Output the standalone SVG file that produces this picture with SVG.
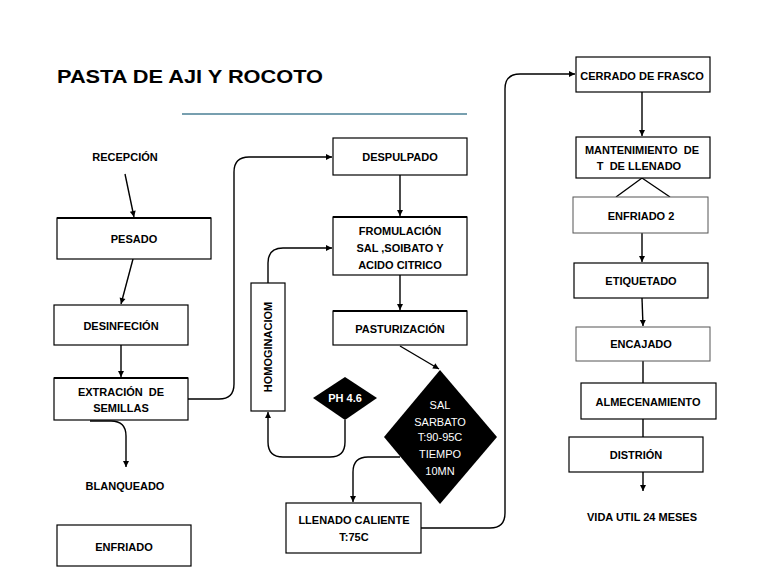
<svg xmlns="http://www.w3.org/2000/svg" width="768" height="576" viewBox="0 0 768 576">
<defs>
<marker id="ah" markerWidth="8" markerHeight="8" refX="7" refY="4" orient="auto" markerUnits="userSpaceOnUse">
<path d="M1,1 L7,4 L1,7 Z" fill="#000"/>
</marker>
<style>
.t{font-family:"Liberation Sans",Arial,sans-serif;font-weight:bold;font-size:11px;fill:#000;text-anchor:middle}
.w{fill:#fff}
.r{font-weight:normal}
.b{fill:#fff;stroke:#000;stroke-width:1.2}
.g{fill:#fff;stroke:#555;stroke-width:1}
.top{stroke:#000;stroke-width:2}
.c{fill:none;stroke:#000;stroke-width:1.4;marker-end:url(#ah)}
.n{fill:none;stroke:#000;stroke-width:1.4}
</style>
</defs>
<rect width="768" height="576" fill="#fff"/>
<text x="57" y="83" font-family="'Liberation Sans',Arial,sans-serif" font-weight="bold" font-size="19" textLength="266" lengthAdjust="spacingAndGlyphs">PASTA DE AJI Y ROCOTO</text>
<line x1="182" y1="114" x2="467" y2="114" stroke="#4a7f95" stroke-width="1.5"/>

<g id="connectors">
<path class="c" d="M125,174 L134,217"/>
<path class="c" d="M133,259 L121,304"/>
<path class="c" d="M121,345 V377"/>
<path class="c" d="M188,399 H219 Q234,399 234,384 V172 Q234,157 249,157 H332"/>
<path class="c" d="M90,421 H111 Q126,421 126,436 V467"/>
<path class="c" d="M400,175 V216"/>
<path class="c" d="M400,275 V310"/>
<path class="c" d="M400,346 L439,369"/>
<path class="c" d="M268,283 V263 Q268,248 283,248 H332"/>
<path class="c" d="M345,420 V442 Q345,457 330,457 H283 Q268,457 268,442 V412"/>
<path class="c" d="M400,457 H368 Q353,457 353,472 V502"/>
<path class="c" d="M421,528 H490 Q505,528 505,513 V89 Q505,74 520,74 H575"/>
<path class="c" d="M642,92 V136"/>
<path class="n" d="M616,197 L642,178 L670,197"/>
<path class="c" d="M642,233 V262"/>
<path class="c" d="M642,298 L643,326"/>
<path class="n" d="M643,361 V383"/>
<path class="n" d="M643,419 V437"/>
<path class="c" d="M643,472 V491"/>
</g>

<g id="recepcion"><text class="t" x="125" y="161">RECEPCIÓN</text></g>
<g id="pesado"><rect class="b" x="57" y="218" width="154" height="41"/><line class="top" x1="57" y1="218" x2="211" y2="218"/><text class="t" x="134" y="243">PESADO</text></g>
<g id="desinfecion"><rect class="b" x="54" y="305" width="134" height="40"/><text class="t" x="121" y="330">DESINFECIÓN</text></g>
<g id="extracion"><rect class="b" x="54" y="378" width="134" height="42"/><line class="top" x1="54" y1="378" x2="188" y2="378"/><text class="t" x="121" y="396" xml:space="preserve">EXTRACIÓN  DE</text><text class="t" x="121" y="412">SEMILLAS</text></g>
<g id="blanqueado"><text class="t" x="125" y="490">BLANQUEADO</text></g>
<g id="enfriado"><rect class="b" x="57" y="525" width="134" height="41"/><text class="t" x="124" y="551">ENFRIADO</text></g>

<g id="despulpado"><rect class="b" x="333" y="138" width="134" height="37"/><text class="t" x="400" y="161">DESPULPADO</text></g>
<g id="formulacion"><rect class="b" x="333" y="217" width="134" height="58"/><line class="top" x1="333" y1="217" x2="467" y2="217"/><text class="t" x="400" y="235">FROMULACIÓN</text><text class="t" x="400" y="252">SAL ,SOIBATO Y</text><text class="t" x="400" y="269">ACIDO CITRICO</text></g>
<g id="pasturizacion"><rect class="b" x="333" y="311" width="134" height="34"/><line class="top" x1="333" y1="311" x2="467" y2="311"/><text class="t" x="400" y="333">PASTURIZACIÓN</text></g>
<g id="homoginaciom"><rect class="b" x="251" y="283" width="34" height="128"/><text class="t" transform="translate(272,347) rotate(-90)" x="0" y="0">HOMOGINACIOM</text></g>
<g id="ph"><path d="M345,377 L377,398 L345,420 L313,398 Z" fill="#000"/><text class="t w" x="345" y="402">PH 4.6</text></g>
<g id="condiciones"><path d="M440,370 L497,437 L440,504 L384,437 Z" fill="#000"/>
<text class="t w r" x="440" y="409">SAL</text><text class="t w r" x="440" y="426">SARBATO</text><text class="t w r" x="440" y="441">T:90-95C</text><text class="t w r" x="440" y="458">TIEMPO</text><text class="t w r" x="440" y="475">10MN</text></g>
<g id="llenado"><rect class="b" x="286" y="503" width="135" height="50"/><text class="t" x="354" y="524">LLENADO CALIENTE</text><text class="t" x="354" y="541">T:75C</text></g>

<g id="cerrado"><rect class="b" x="576" y="57" width="134" height="35"/><text class="t" x="642" y="80">CERRADO DE FRASCO</text></g>
<g id="mantenimiento"><rect class="b" x="576" y="137" width="134" height="41"/><text class="t" x="642" y="154" xml:space="preserve">MANTENIMIENTO  DE</text><text class="t" x="639" y="170" xml:space="preserve">T  DE LLENADO</text></g>
<g id="enfriado2"><rect class="g" x="573" y="197" width="135" height="36"/><text class="t" x="641" y="220">ENFRIADO 2</text></g>
<g id="etiquetado"><rect class="b" x="574" y="263" width="134" height="35"/><text class="t" x="641" y="285">ETIQUETADO</text></g>
<g id="encajado"><rect class="g" x="576" y="327" width="134" height="34"/><text class="t" x="641" y="348">ENCAJADO</text></g>
<g id="almacenamiento"><rect class="b" x="581" y="383" width="135" height="36"/><text class="t" x="648" y="406">ALMECENAMIENTO</text></g>
<g id="distribucion"><rect class="b" x="569" y="437" width="134" height="35"/><text class="t" x="636" y="459">DISTRIÓN</text></g>
<g id="vida"><text class="t" x="642" y="521">VIDA UTIL 24 MESES</text></g>
</svg>
